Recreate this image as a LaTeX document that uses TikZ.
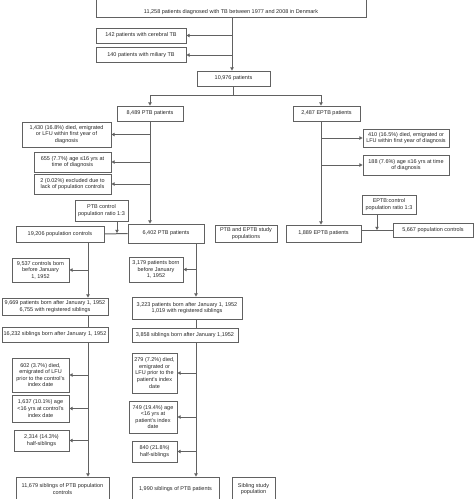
\documentclass[tikz,border=0pt]{standalone}
\usepackage{fontspec}
\setmainfont{Liberation Sans}
\usetikzlibrary{arrows.meta}
\tikzset{
  box/.style={draw=black!62, line width=0.85pt, rectangle, inner sep=0.5pt, align=center,
    font=\fontsize{5.5}{6.6}\selectfont, text=black!85},
  conn/.style={draw=black!62, line width=1pt},
  arr/.style={conn, -{Triangle[length=3.2pt,width=3.4pt]}},
}
\begin{document}
\begin{tikzpicture}[x=1pt,y=-1pt]
\useasboundingbox (0,0) rectangle (474,499);
% top
\node[box, minimum width=270pt, anchor=south, text height=20pt, inner ysep=3pt] (top) at (231,18)
  {11,258 patients diagnosed with TB between 1977 and 2008 in Denmark};
\node[box, minimum width=90pt, minimum height=15pt] (cer) at (141,35.5) {142 patients with cerebral TB};
\node[box, minimum width=90pt, minimum height=15pt] (mil) at (141,55) {140 patients with miliary TB};
\node[box, minimum width=73pt, minimum height=15pt] (tot) at (233.5,78.5) {10,976 patients};
\node[box, minimum width=66pt, minimum height=15pt] (ptb) at (150,113.5) {8,489 PTB patients};
\node[box, minimum width=67pt, minimum height=15pt] (eptb) at (326.5,113.5) {2,487 EPTB patients};
% PTB exclusions
\node[box, minimum width=89pt, minimum height=25pt] (ex1) at (66.5,134.5) {1,430 (16.8\%) died, emigrated\\or LFU within first year of\\diagnosis};
\node[box, minimum width=77pt, minimum height=20pt] (ex2) at (72.5,162) {655 (7.7\%) age \symbol{"2264}16 yrs at\\time of diagnosis};
\node[box, minimum width=77pt, minimum height=20pt] (ex3) at (72.5,184) {2 (0.02\%) excluded due to\\lack of population controls};
\node[box, minimum width=53pt, minimum height=21pt] (pr) at (101.5,210.5) {PTB control\\population ratio 1:3};
% EPTB exclusions
\node[box, minimum width=86pt, minimum height=18pt] (r1) at (406,138) {410 (16.5\%) died, emigrated or\\LFU within first year of diagnosis};
\node[box, minimum width=86pt, minimum height=20pt] (r2) at (406,165) {188 (7.6\%) age \symbol{"2264}16 yrs at time\\of diagnosis};
\node[box, minimum width=54pt, minimum height=19pt] (er) at (389,204.5) {EPTB:control\\population ratio 1:3};
% study populations
\node[box, minimum width=88pt, minimum height=16pt] (c19) at (60,234) {19,206 population controls};
\node[box, minimum width=76pt, minimum height=19pt] (p64) at (166,233.5) {6,402 PTB patients};
\node[box, minimum width=62pt, minimum height=17pt] (study) at (246,233.5) {PTB and EPTB study\\populations};
\node[box, minimum width=75pt, minimum height=17pt] (e18) at (323.5,233.5) {1,889 EPTB patients};
\node[box, minimum width=80pt, minimum height=14pt] (c56) at (433,230) {5,667 population controls};
% lower left
\node[box, minimum width=57pt, minimum height=24pt] (b1) at (40.5,270) {9,537 controls born\\before January\\1, 1952};
\node[box, minimum width=106pt, minimum height=17pt] (b2) at (55,306.5) {9,669 patients born after January 1, 1952\\6,755 with registered siblings};
\node[box, minimum width=106pt, minimum height=15pt] (b3) at (55,334.5) {16,232 siblings born after January 1, 1952};
\node[box, minimum width=57pt, minimum height=34pt] (d1) at (40.5,375) {602 (3.7\%) died,\\emigrated of LFU\\prior to the control's\\index date};
\node[box, minimum width=57pt, minimum height=27pt] (d2) at (40.5,408.5) {1,637 (10.1\%) age\\<16 yrs at control's\\index date};
\node[box, minimum width=55pt, minimum height=21pt] (d3) at (41.5,440.5) {2,314 (14.3\%)\\half-siblings};
\node[box, minimum width=93pt, minimum height=24pt] (s1) at (62.5,489) {11,679 siblings of PTB population\\controls};
% lower middle
\node[box, minimum width=54pt, minimum height=25pt] (m1) at (156,269.5) {3,179 patients born\\before January\\1, 1952};
\node[box, minimum width=110pt, minimum height=22pt] (m2) at (187,308) {3,223 patients born after January 1, 1952\\1,019 with registered siblings};
\node[box, minimum width=106pt, minimum height=14pt] (m3) at (185,335) {3,858 siblings born after January 1,1952};
\node[box, minimum width=45pt, minimum height=40pt] (n1) at (154.5,373) {279 (7.2\%) died,\\emigrated or\\LFU prior to the\\patient's index\\date};
\node[box, minimum width=48pt, minimum height=32pt] (n2) at (153,417) {749 (19.4\%) age\\<16 yrs at\\patient's index\\date};
\node[box, minimum width=45pt, minimum height=21pt] (n3) at (154.5,451.5) {840 (21.8\%)\\half-siblings};
\node[box, minimum width=87pt, minimum height=24pt] (s2) at (175.5,489) {1,990 siblings of PTB patients};
\node[box, minimum width=43pt, minimum height=24pt] (s3) at (253.5,489) {Sibling study\\population};
% trunk coordinates
\coordinate (tt) at (232,0);
\coordinate (sp) at (233.5,95);
\coordinate (lt) at (150,0);
\coordinate (rt) at (321,0);
\coordinate (pj) at (117,233);
\coordinate (ej) at (377,230);
\coordinate (ct) at (88,0);
\coordinate (mt) at (196,0);
% connectors
\draw[arr] (top.south -| tt) -- (tot.north -| tt);
\draw[arr] (cer.east -| tt) -- (cer.east);
\draw[arr] (mil.east -| tt) -- (mil.east);
\draw[conn] (tot.south) -- (sp);
\draw[arr] (sp) -| (ptb.north -| lt);
\draw[arr] (sp) -| (eptb.north -| rt);
\draw[arr] (ptb.south -| lt) -- (p64.north -| lt);
\draw[arr] (ex1.east -| lt) -- (ex1.east);
\draw[arr] (ex2.east -| lt) -- (ex2.east);
\draw[arr] (ex3.east -| lt) -- (ex3.east);
\draw[arr] (eptb.south -| rt) -- (e18.north -| rt);
\draw[arr] (r1.west -| rt) -- (r1.west);
\draw[arr] (r2.west -| rt) -- (r2.west);
\draw[conn] (c19.east) -- (p64.west);
\draw[arr] (pr.south -| pj) -- (pj);
\draw[conn] (e18.east |- c56.west) -- (c56.west);
\draw[arr] (er.south -| ej) -- (ej);
\draw[arr] (c19.south -| ct) -- (b2.north -| ct);
\draw[arr] (b1.east -| ct) -- (b1.east);
\draw[conn] (b2.south -| ct) -- (b3.north -| ct);
\draw[arr] (b3.south -| ct) -- (s1.north -| ct);
\draw[arr] (d1.east -| ct) -- (d1.east);
\draw[arr] (d2.east -| ct) -- (d2.east);
\draw[arr] (d3.east -| ct) -- (d3.east);
\draw[arr] (p64.south -| mt) -- (m2.north -| mt);
\draw[arr] (m1.east -| mt) -- (m1.east);
\draw[conn] (m2.south -| mt) -- (m3.north -| mt);
\draw[arr] (m3.south -| mt) -- (s2.north -| mt);
\draw[arr] (n1.east -| mt) -- (n1.east);
\draw[arr] (n2.east -| mt) -- (n2.east);
\draw[arr] (n3.east -| mt) -- (n3.east);
\end{tikzpicture}
\end{document}
